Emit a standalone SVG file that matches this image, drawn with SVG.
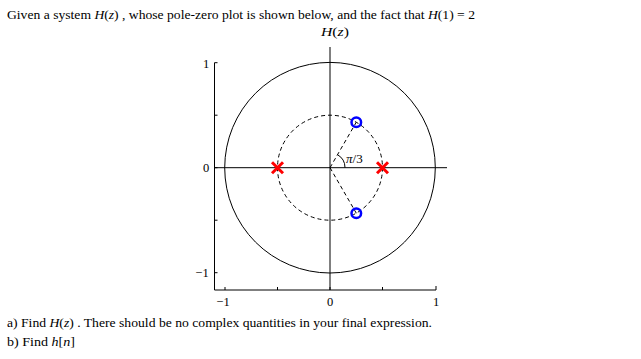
<svg xmlns="http://www.w3.org/2000/svg" width="641" height="359" viewBox="0 0 641 359">
<style>
text{font-family:"Liberation Serif","Times New Roman",serif;fill:#000}
.t{font-size:13px}
.lab{font-size:12.5px}
.ax{stroke:#000;stroke-width:1;fill:none}
.dash{stroke:#000;stroke-width:1;fill:none;stroke-dasharray:4,3}
.pole{stroke:#ff0000;stroke-width:3;fill:none}
.zero{stroke:#0000ff;stroke-width:2.5;fill:none}
</style>
<rect width="641" height="359" fill="#fff"/>
<text class="t" x="7" y="18.5" textLength="468" lengthAdjust="spacingAndGlyphs">Given a system <tspan font-style="italic">H</tspan>(<tspan font-style="italic">z</tspan>) , whose pole-zero plot is shown below, and the fact that <tspan font-style="italic">H</tspan>(1) = 2</text>
<text class="t" x="335" y="35.5" text-anchor="middle" textLength="28" lengthAdjust="spacingAndGlyphs"><tspan font-style="italic">H</tspan>(<tspan font-style="italic">z</tspan>)</text>
<g id="axes">
<path class="ax" d="M214.5 62.7V290H436V286"/>
<path class="ax" d="M214.5 62.7h3M214.5 115.2h3M214.5 167.7h3M214.5 220.2h3M214.5 272.7h3"/>
<path class="ax" d="M225 290v-3M277.5 290v-3M330 290v-3M382.5 290v-3"/>
<path class="ax" d="M214.5 167.7H447M330 47V290"/>
<text class="lab" x="206" y="67.5" text-anchor="middle">1</text>
<text class="lab" x="206" y="172" text-anchor="middle">0</text>
<text class="lab" x="202" y="277" text-anchor="middle">−1</text>
<text class="lab" x="223" y="306" text-anchor="middle">−1</text>
<text class="lab" x="330" y="306" text-anchor="middle">0</text>
<text class="lab" x="436" y="306" text-anchor="middle">1</text>
</g>
<g id="unit-circle"><circle class="ax" cx="330" cy="167.7" r="105.3"/></g>
<g id="half-circle"><circle class="dash" cx="330" cy="167.7" r="52.5"/></g>
<g id="connectors">
<path class="dash" d="M330 167.7L356.3 122.2M330 167.7L356.3 213.2"/>
<path class="ax" d="M345 167.7A15 15 0 0 0 337.5 154.7"/>
</g>
<text x="346" y="163" font-size="13"><tspan font-style="italic">π</tspan>/3</text>
<g id="pole1"><path class="pole" d="M272 162.2l11 11M283 162.2l-11 11"/></g>
<g id="pole2"><path class="pole" d="M377 162.2l11 11M388 162.2l-11 11"/></g>
<g id="zero1"><circle class="zero" cx="356.3" cy="122.2" r="4.8"/></g>
<g id="zero2"><circle class="zero" cx="356.3" cy="213.2" r="4.8"/></g>
<text class="t" x="7" y="326.5" textLength="425" lengthAdjust="spacingAndGlyphs">a) Find <tspan font-style="italic">H</tspan>(<tspan font-style="italic">z</tspan>) . There should be no complex quantities in your final expression.</text>
<text class="t" x="7" y="345.5" textLength="68" lengthAdjust="spacingAndGlyphs">b) Find <tspan font-style="italic">h</tspan>[<tspan font-style="italic">n</tspan>]</text>
</svg>
